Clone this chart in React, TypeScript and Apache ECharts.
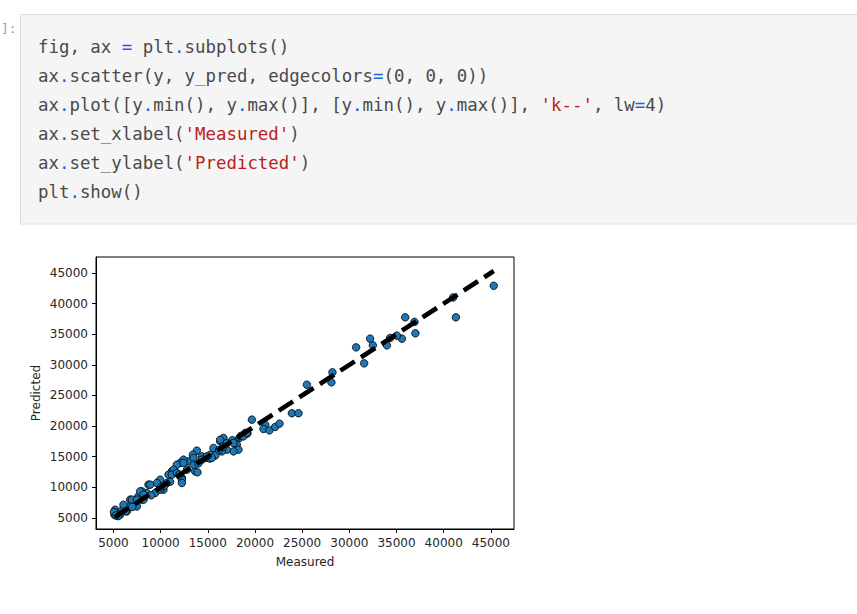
import React, { useEffect, useRef } from "react";
import * as echarts from "echarts";

// Measured (x) and predicted (y) values
const measured = [
  45300, 41290, 41000, 35917, 36900, 37000, 35570, 35040, 34330, 33980,
  32200, 32490, 30720, 31570, 28210, 28100, 25500, 23910, 24610, 19670,
  21080, 20900, 21530, 22140, 22600, 18960, 18350, 17900, 18080, 16660,
  16310, 18250, 17720, 17020, 16490, 16660, 15600, 15250, 14900, 14370,
  14370, 13840, 13420, 12950, 12420, 12070, 11720, 11190, 13660, 13900,
  13480, 11360, 12250, 10830, 9950, 9600, 8710, 8540, 8010, 9420,
  10300, 7120, 6770, 6770, 7480, 8010, 7650, 6060, 6420, 5180,
  5100, 5360, 5710, 6950, 7830, 8890, 11190, 11720, 12250, 12420,
  12250, 10660, 9950, 8180, 7480, 6060, 5500, 6300, 7000, 8200,
  9000, 10000, 10400, 11000, 12000, 12800, 13500, 14000, 15200, 15800,
  16200, 17000, 17600, 18500, 19200, 16310, 17720, 18780, 19140, 15430,
  14900, 5050, 5250,
];
const predicted = [
  42900, 37750, 41000, 37750, 37000, 35140, 34270, 34760, 34390, 33180,
  34270, 33180, 32850, 30240, 28770, 27140, 26760, 22100, 22100, 21050,
  20230, 19530, 19300, 19860, 20400, 18880, 18060, 17510, 16970, 18060,
  17510, 16150, 15870, 16150, 15870, 16690, 16420, 15330, 14800, 15060,
  14520, 15990, 15330, 14250, 14520, 13980, 13700, 12610, 12610, 12450,
  14800, 12880, 11530, 12070, 11250, 10710, 10440, 9080, 9340, 9080,
  9620, 7710, 7990, 6890, 6890, 7990, 8530, 6630, 6080, 6350,
  5540, 5820, 5540, 7990, 9340, 10440, 12070, 12340, 11250, 13980,
  10710, 10710, 9620, 8800, 7990, 7170, 5300, 6100, 6800, 8000,
  8700, 10000, 10300, 10900, 12100, 12900, 13700, 13900, 14700, 15200,
  16100, 17200, 17700, 18400, 18800, 17780, 17240, 18320, 18880, 14800,
  15060, 6000, 5400,
];
// dashed reference line: [y.min(), y.max()]
const lineEnds = [5100, 45300];
const tickValues = [5000, 10000, 15000, 20000, 25000, 30000, 35000, 40000, 45000];
const xAxisName = "Measured";
const yAxisName = "Predicted";

// code cell lines as token lists: [styleKey, text]
const codeLines: [string, string][][] = [
  [["d", "fig, ax "], ["o", "="], ["d", " plt"], ["o", "."], ["d", "subplots()"]],
  [["d", "ax"], ["o", "."], ["d", "scatter(y, y_pred, edgecolors"], ["o", "="], ["d", "(0, 0, 0))"]],
  [
    ["d", "ax"], ["o", "."], ["d", "plot([y"], ["o", "."], ["d", "min(), y"], ["o", "."],
    ["d", "max()], [y"], ["o", "."], ["d", "min(), y"], ["o", "."], ["d", "max()], "],
    ["s", "'k--'"], ["d", ", lw"], ["o", "="], ["d", "4)"],
  ],
  [["d", "ax"], ["o", "."], ["d", "set_xlabel("], ["s", "'Measured'"], ["d", ")"]],
  [["d", "ax"], ["o", "."], ["d", "set_ylabel("], ["s", "'Predicted'"], ["d", ")"]],
  [["d", "plt"], ["o", "."], ["d", "show()"]],
];

export default function App() {
  const ref = useRef<HTMLDivElement>(null);
  useEffect(() => {
    if (!ref.current) return;
    const chart = echarts.init(ref.current, null, { renderer: "svg" });
    const mono = "'DejaVu Sans Mono', 'Liberation Mono', monospace";
    const fs = 17.4;
    const rich = {
      d: { fontFamily: mono, fontSize: fs, fill: "#4a4a4a" },
      o: { fontFamily: mono, fontSize: fs, fill: "#1c62d8" },
      s: { fontFamily: mono, fontSize: fs, fill: "#ba2121" },
    };
    const codeGraphics = codeLines.map((tokens, i) => ({
      type: "text",
      left: 38,
      top: 38 + i * 29,
      z: 10,
      style: {
        text: tokens.map(([k, t]) => `{${k}|${t}}`).join(""),
        rich,
        fontFamily: mono,
        fontSize: fs,
        fill: "#4a4a4a",
      },
    }));
    const scatterData = measured.map((m, i) => [m, predicted[i]]);
    const axisLabelStyle = {
      fontFamily: "'DejaVu Sans', sans-serif",
      fontSize: 12,
      color: "#262626",
    };
    chart.setOption({
      animation: false,
      backgroundColor: "#ffffff",
      graphic: [
        {
          type: "rect",
          shape: { x: 20.5, y: 14.5, width: 860, height: 209.5 },
          style: { fill: "#f5f5f5", stroke: "#e0e0e0", lineWidth: 1 },
          z: 1,
        },
        {
          type: "text",
          x: 1,
          y: 28,
          style: {
            text: "]:",
            fontFamily: mono,
            fontSize: 13,
            fill: "#9e9e9e",
            align: "left",
            verticalAlign: "middle",
          },
        },
        ...codeGraphics,
      ],
      grid: {
        left: 96,
        right: 857 - 514,
        top: 257,
        bottom: 614 - 529,
        show: true,
        borderColor: "#000",
        borderWidth: 1,
        backgroundColor: "#fff",
      },
      xAxis: {
        type: "value",
        min: 3150,
        max: 47450,
        name: xAxisName,
        nameLocation: "middle",
        nameGap: 27,
        nameTextStyle: axisLabelStyle,
        splitLine: { show: false },
        axisLine: { show: true, onZero: false, lineStyle: { color: "#000", width: 1 } },
        axisTick: { show: true, length: 4, lineStyle: { color: "#000" }, customValues: tickValues },
        axisLabel: { ...axisLabelStyle, margin: 8, customValues: tickValues, formatter: (v: number) => String(v) },
      },
      yAxis: {
        type: "value",
        min: 3200,
        max: 47600,
        name: yAxisName,
        nameLocation: "middle",
        nameGap: 54,
        nameTextStyle: axisLabelStyle,
        splitLine: { show: false },
        axisLine: { show: true, onZero: false, lineStyle: { color: "#000", width: 1 } },
        axisTick: { show: true, length: 4, lineStyle: { color: "#000" }, customValues: tickValues },
        axisLabel: { ...axisLabelStyle, margin: 8, customValues: tickValues, formatter: (v: number) => String(v) },
      },
      series: [
        {
          type: "scatter",
          data: scatterData,
          symbol: "circle",
          symbolSize: 7.5,
          itemStyle: { color: "#1f77b4", borderColor: "#000", borderWidth: 0.8, opacity: 1 },
          z: 2,
        },
        {
          type: "line",
          data: [
            [lineEnds[0], lineEnds[0]],
            [lineEnds[1], lineEnds[1]],
          ],
          showSymbol: false,
          symbol: "none",
          lineStyle: { color: "#000", width: 4.7, type: [17, 7.5], cap: "butt" },
          z: 3,
        },
      ],
    });
    return () => chart.dispose();
  }, []);
  return (
    <div
      ref={ref}
      style={{ position: "fixed", left: 0, top: 0, width: 857, height: 614 }}
    />
  );
}
